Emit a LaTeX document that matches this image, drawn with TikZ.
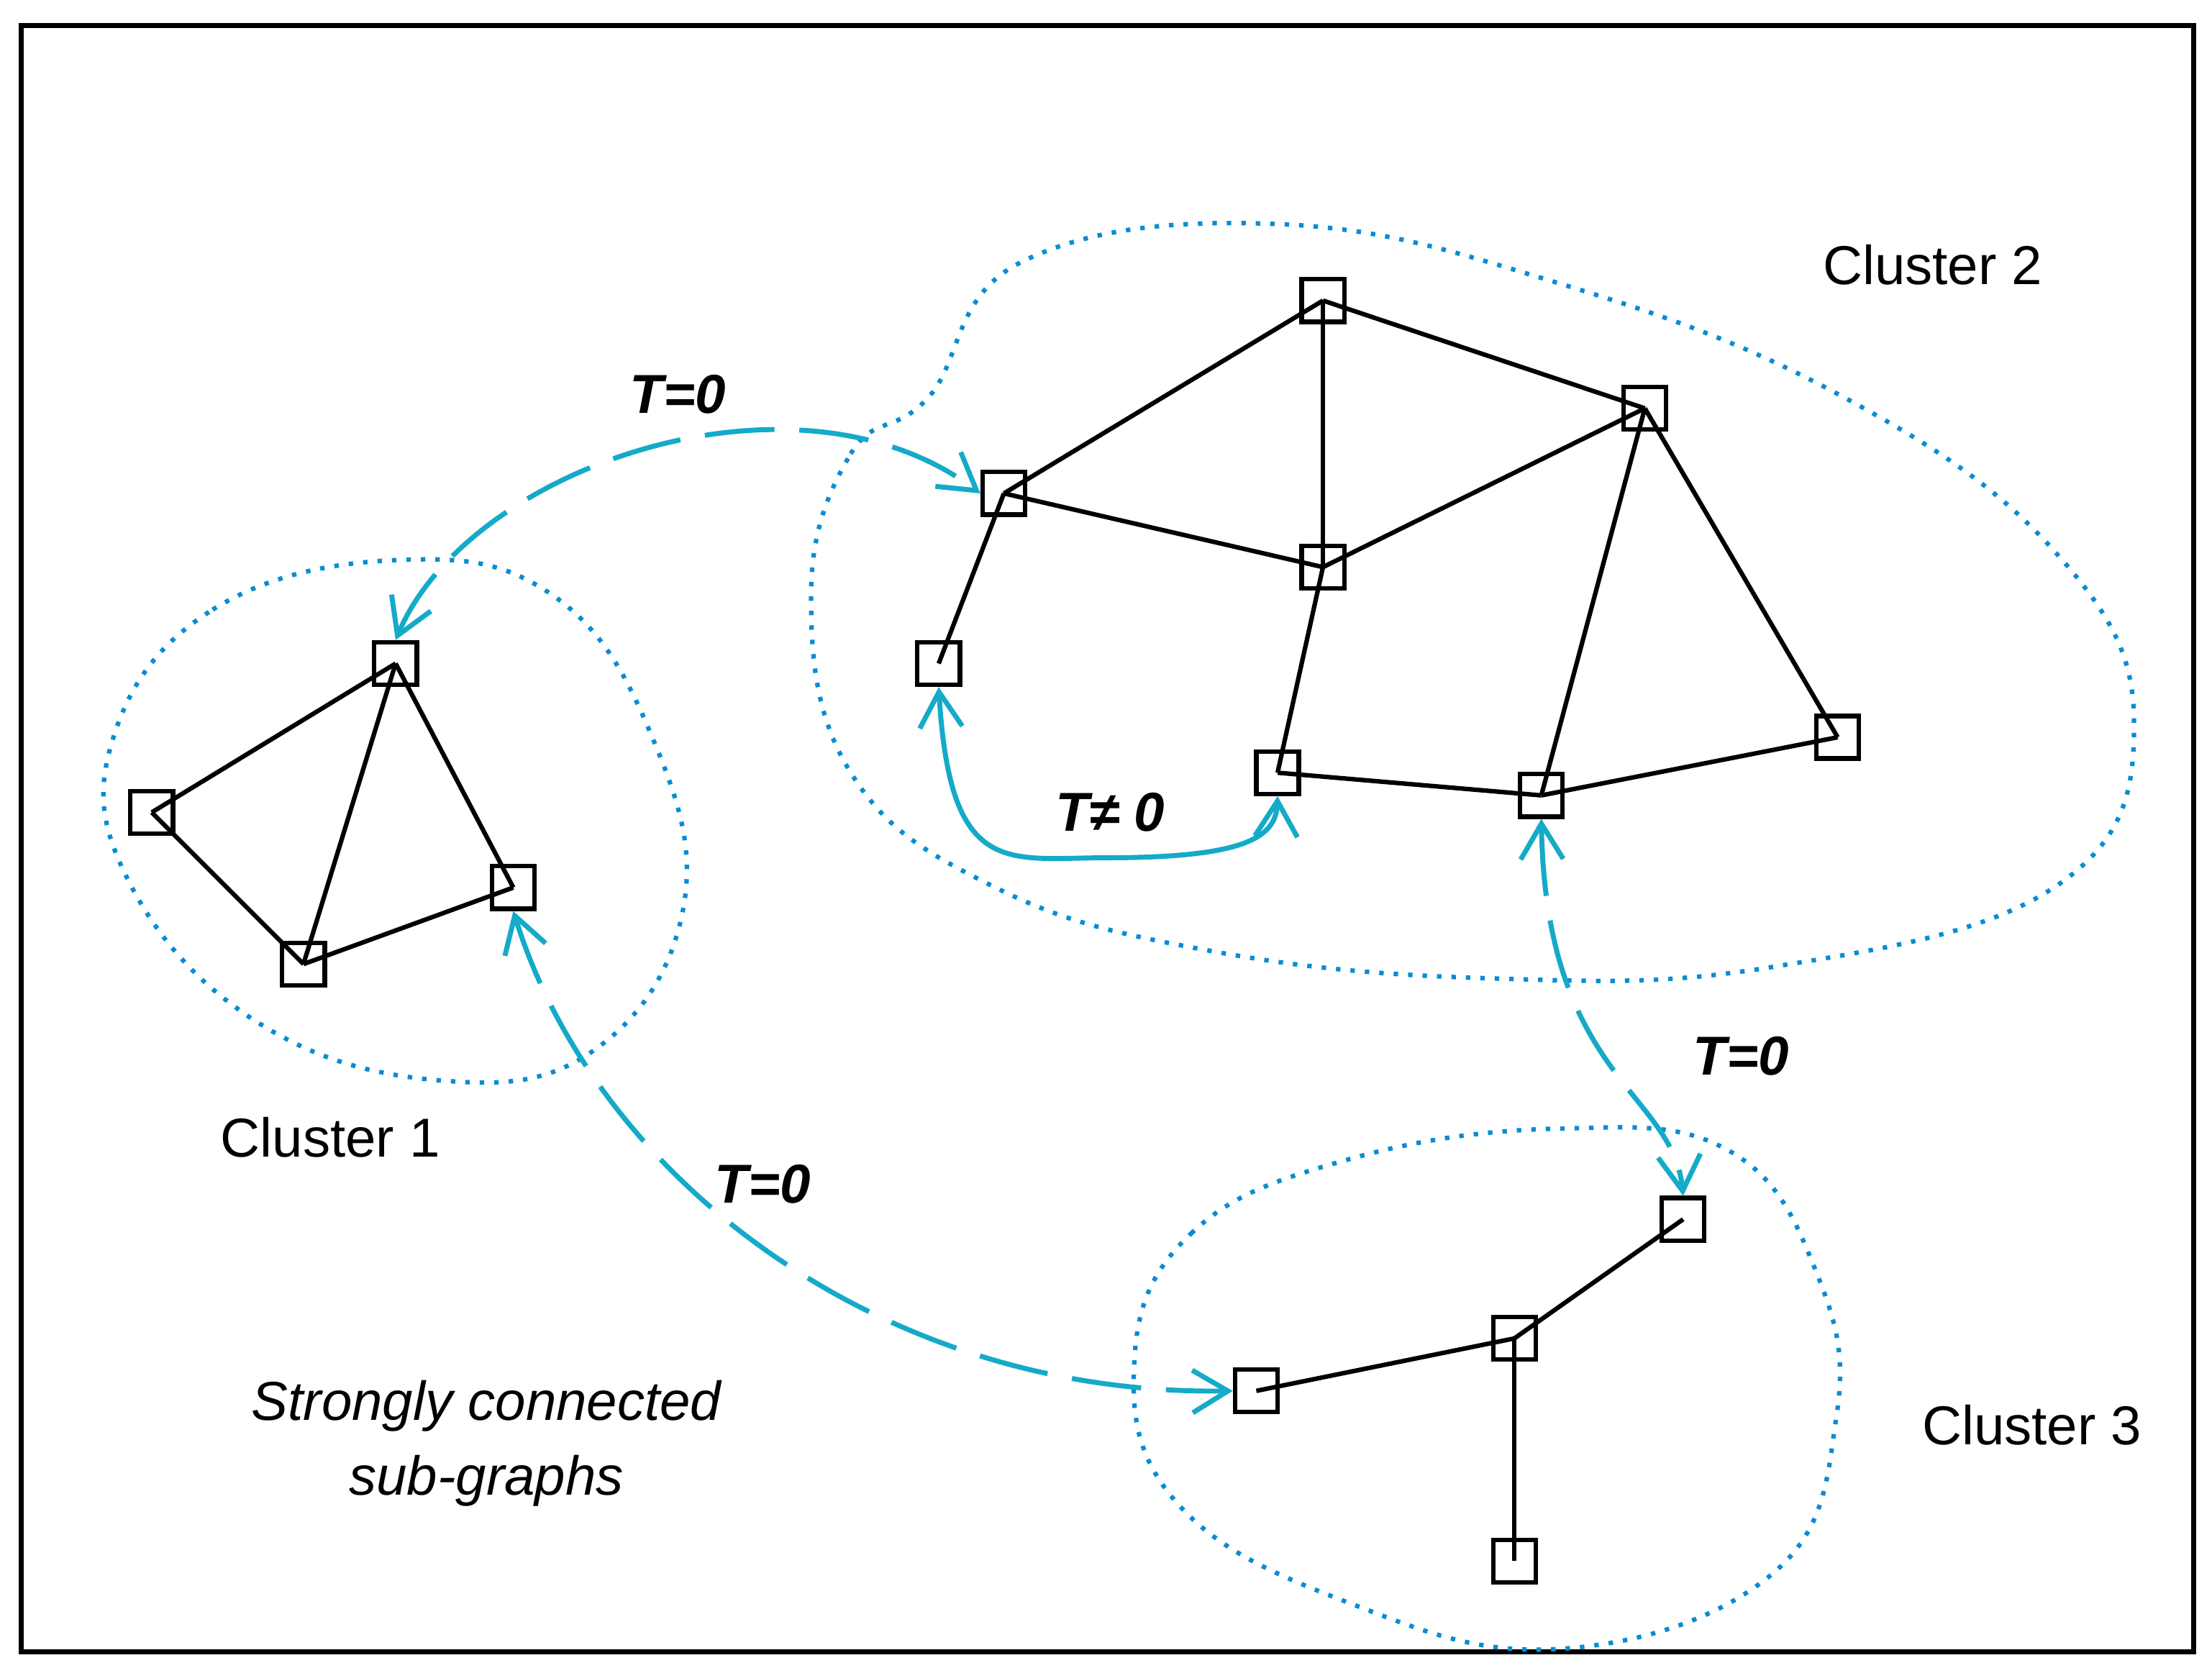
\documentclass[tikz,border=0pt]{standalone}
\usepackage{fontspec}
\setmainfont{Liberation Sans}
\usetikzlibrary{arrows.meta}
\definecolor{cy}{RGB}{20,170,200}
\definecolor{dotc}{RGB}{10,140,210}
\begin{document}
\begin{tikzpicture}[x=0.01cm,y=-0.01cm,
  sq/.style={draw,line width=0.9pt,minimum size=0.3cm,inner sep=0pt},
  ed/.style={line width=0.9pt},
  blob/.style={dotc,dotted,line width=0.9pt},
  link/.style={cy,line width=1pt,{Straight Barb[length=2.5mm,width=3mm]}-{Straight Barb[length=2.5mm,width=3mm]}},
  lab/.style={font=\fontsize{11}{13}\selectfont},
  tl/.style={font=\fontsize{11}{13}\selectfont\bfseries\itshape}]
\useasboundingbox (0,0) rectangle (1560,1176);
\draw[line width=1pt] (15,18) rectangle (1547,1165);
% blobs
\draw[blob] plot[smooth cycle,tension=0.7] coordinates {(80,520)(150,430)(280,395)(390,420)(460,520)(482,640)(420,740)(310,762)(180,720)(90,620)};
\draw[blob] plot[smooth cycle,tension=0.7] coordinates {(572,420)(600,320)(655,280)(720,185)(900,158)(1100,200)(1300,280)(1450,390)(1505,510)(1450,625)(1250,682)(1050,690)(850,670)(700,625)(600,545)};
\draw[blob] plot[smooth cycle,tension=0.7] coordinates {(800,960)(840,870)(950,818)(1100,796)(1220,812)(1282,900)(1295,1000)(1250,1110)(1100,1163)(950,1130)(830,1060)};
% nodes
\node[sq] (a1) at (279,468) {};
\node[sq] (a2) at (107,573) {};
\node[sq] (a3) at (214,680) {};
\node[sq] (a4) at (362,626) {};
\node[sq] (b1) at (933,212) {};
\node[sq] (b2) at (1160,288) {};
\node[sq] (b3) at (708,348) {};
\node[sq] (b4) at (933,400) {};
\node[sq] (b5) at (662,468) {};
\node[sq] (b6) at (901,545) {};
\node[sq] (b7) at (1087,561) {};
\node[sq] (b8) at (1296,520) {};
\node[sq] (c1) at (1187,860) {};
\node[sq] (c2) at (1068,944) {};
\node[sq] (c3) at (886,981) {};
\node[sq] (c4) at (1068,1101) {};
% edges
\foreach \u/\v in {a1/a2,a2/a3,a3/a1,a1/a4,a3/a4,b1/b3,b1/b4,b1/b2,b3/b4,b4/b2,b3/b5,b4/b6,b6/b7,b7/b2,b2/b8,b7/b8,c1/c2,c2/c3,c2/c4}
  \draw[ed] (\u.center) -- (\v.center);
% links
\draw[link,dash pattern=on 14pt off 5pt] (a1.north) .. controls (330,330) and (560,250) .. (b3.west);
\draw[link,dash pattern=on 14pt off 5pt] (a4.south) .. controls (420,830) and (620,985) .. (c3.west);
\draw[link,dash pattern=on 14pt off 5pt] (b7.south) .. controls (1090,760) and (1180,770) .. (c1.north);
\draw[link] (b5.south) .. controls (670,620) and (710,605) .. (780,605) .. controls (880,605) and (900,590) .. (b6.south);
% labels
\node[tl] (t1) at (478,278) {T=0};
\node[tl] (t2) at (538,835) {T=0};
\node[tl] (t3) at (1228,745) {T=0};
\node[tl] (t4) at (783,573) {T≠ 0};
\node[lab] (l2) at (1363,187) {Cluster 2};
\node[lab] (l1) at (233,802) {Cluster 1};
\node[lab] (l3) at (1433,1005) {Cluster 3};
\node[lab,font=\fontsize{11}{15}\selectfont\itshape,align=center] (s) at (343,1018) {Strongly connected\\sub-graphs};
\end{tikzpicture}
\end{document}
